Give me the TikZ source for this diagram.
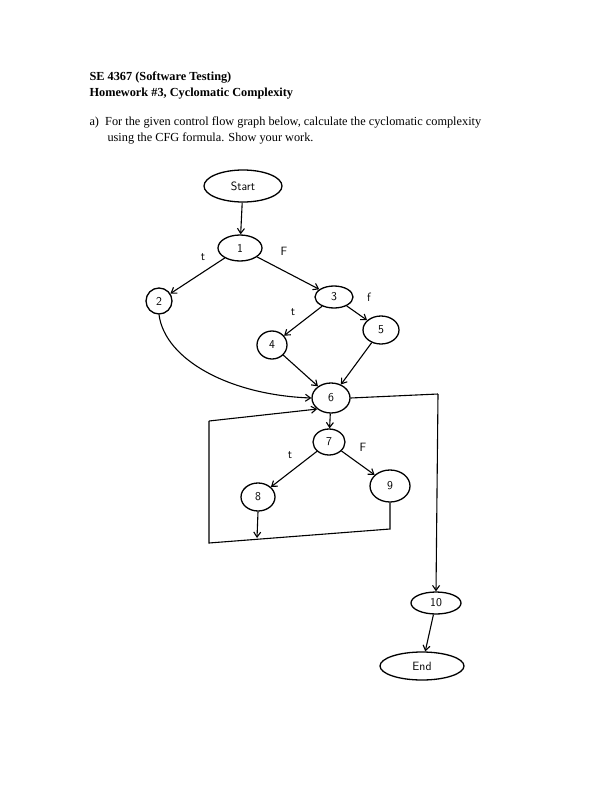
\documentclass[tikz,border=0pt]{standalone}
\usepackage{fontspec}
\setmainfont{Liberation Serif}
\usetikzlibrary{shapes.geometric,arrows.meta}
\begin{document}
\begin{tikzpicture}[x=1pt,y=-1pt,
  nd/.style={draw,ellipse,line width=1.3pt,inner sep=0pt,font=\sffamily\large},
  ed/.style={line width=1.1pt,-{Straight Barb[length=5pt,width=7pt]}},
  ln/.style={line width=1.1pt},
  lb/.style={font=\sffamily\large}]
\useasboundingbox (0,0) rectangle (611,792);
\node[anchor=west,font=\bfseries\fontsize{12.3}{14}\selectfont] (t1) at (86,78) {SE 4367 (Software Testing)};
\node[anchor=west,font=\bfseries\fontsize{12.3}{14}\selectfont] (t2) at (86,94) {Homework \#3, Cyclomatic Complexity};
\node[anchor=west,font=\fontsize{12.3}{14}\selectfont] (a1) at (86,122) {a)\enspace For the given control flow graph below, calculate the cyclomatic complexity};
\node[anchor=west,font=\fontsize{12.3}{14}\selectfont] (a2) at (104,138) {using the CFG formula. Show your work.};
\node[nd,minimum width=78pt,minimum height=32pt] (s) at (243,186) {Start};
\node[nd,minimum width=44pt,minimum height=26pt] (n1) at (240,248) {1};
\node[nd,minimum width=26pt,minimum height=26pt] (n2) at (159,301) {2};
\node[nd,minimum width=38pt,minimum height=22pt] (n3) at (334,297) {3};
\node[nd,minimum width=30pt,minimum height=28pt] (n4) at (272,345) {4};
\node[nd,minimum width=36pt,minimum height=28pt] (n5) at (381,330) {5};
\node[nd,minimum width=38pt,minimum height=30pt] (n6) at (331,398) {6};
\node[nd,minimum width=32pt,minimum height=26pt] (n7) at (329,442) {7};
\node[nd,minimum width=34pt,minimum height=28pt] (n8) at (258,497) {8};
\node[nd,minimum width=40pt,minimum height=32pt] (n9) at (390,486) {9};
\node[nd,minimum width=50pt,minimum height=22pt] (n10) at (436,603) {10};
\node[nd,minimum width=84pt,minimum height=28pt] (e) at (422,666) {End};
\node[lb] (l1) at (203,257) {t};
\node[lb] (l2) at (284,251) {F};
\node[lb] (l3) at (293,312) {t};
\node[lb] (l4) at (369,297) {f};
\node[lb] (l5) at (290,455) {t};
\node[lb] (l6) at (363,447) {F};
\coordinate (c1) at (438,394);
\coordinate (c2) at (390,529);
\coordinate (c3) at (209,543);
\coordinate (c4) at (209,421);
\coordinate (c5) at (257,538);
\draw[ed] (s) -- (n1);
\draw[ed] (n1) -- (n2);
\draw[ed] (n1) -- (n3);
\draw[ed] (n3) -- (n4);
\draw[ed] (n3) -- (n5);
\draw[ed] (n4) -- (n6);
\draw[ed] (n5) -- (n6);
\draw[ed] (n2.south) .. controls (165,360) and (230,395) .. (n6.west);
\draw[ed] (n6) -- (n7);
\draw[ed] (n7) -- (n8);
\draw[ed] (n7) -- (n9);
\draw[ln] (n9.south) -- (c2) -- (c3) -- (c4);
\draw[ed] (c4) -- (n6.south west);
\draw[ed] (n8.south) -- (c5);
\draw[ln] (n6.east) -- (c1);
\draw[ed] (c1) -- (n10.north);
\draw[ed] (n10) -- (e);
\end{tikzpicture}
\end{document}
